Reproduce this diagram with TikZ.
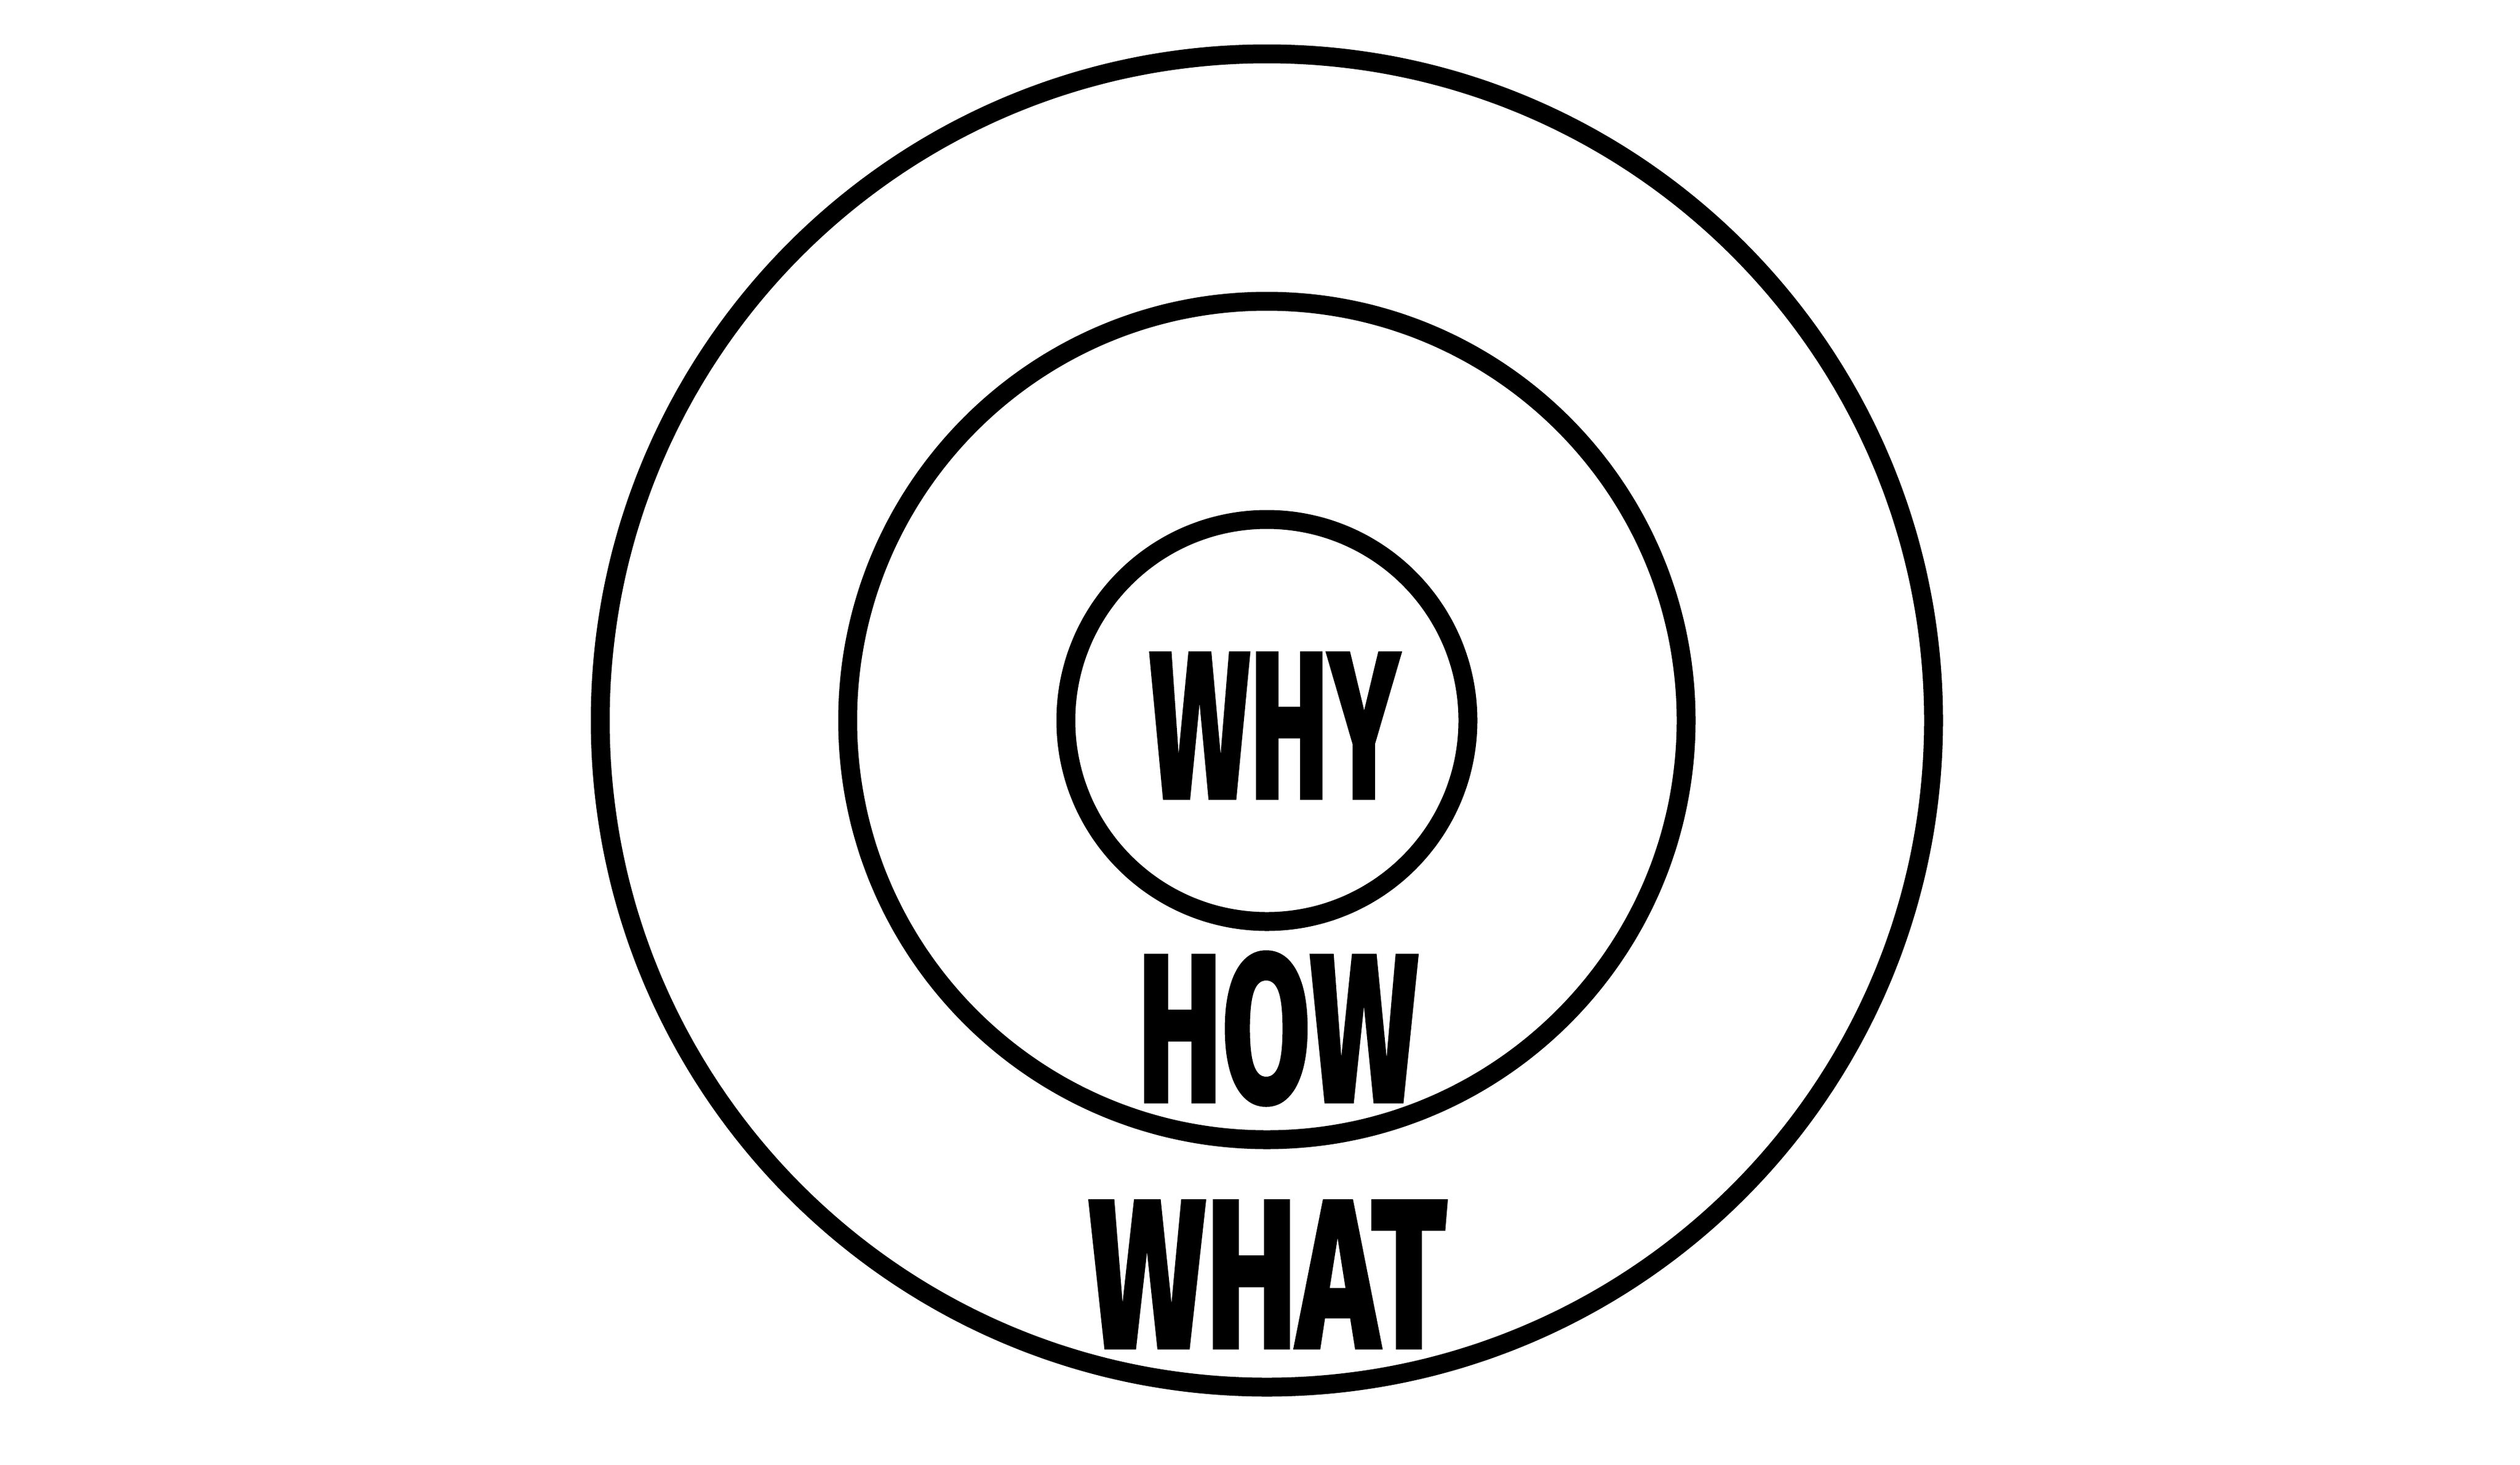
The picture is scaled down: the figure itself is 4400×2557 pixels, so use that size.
\documentclass[tikz,border=0pt]{standalone}
\usepackage{fontspec}
\usepackage{graphicx}
\setmainfont{Fira Sans}
\newfontfamily\markerfont{Fira Sans}[UprightFont=*-Bold, FakeBold=2.5]
\tikzset{
  ring/.style={draw=black, line width=33pt},
  word/.style={inner sep=0pt, font=\markerfont}
}
\begin{document}
\begin{tikzpicture}[x=1pt,y=-1pt]
\useasboundingbox (0,0) rectangle (4400,2557);
\coordinate (c) at (2212,1258);
\draw[ring] (c) circle[radius=1164];
\draw[ring] (c) circle[radius=732];
\draw[ring] (c) circle[radius=351];
\node[word] (why) at (2225,1267) {\resizebox{435pt}{250pt}{WHY}};
\node[word] (how) at (2231,1796) {\resizebox{490pt}{258pt}{HOW}};
\node[word] (what) at (2213,2225) {\resizebox{622pt}{253pt}{WHAT}};
\end{tikzpicture}
\end{document}
